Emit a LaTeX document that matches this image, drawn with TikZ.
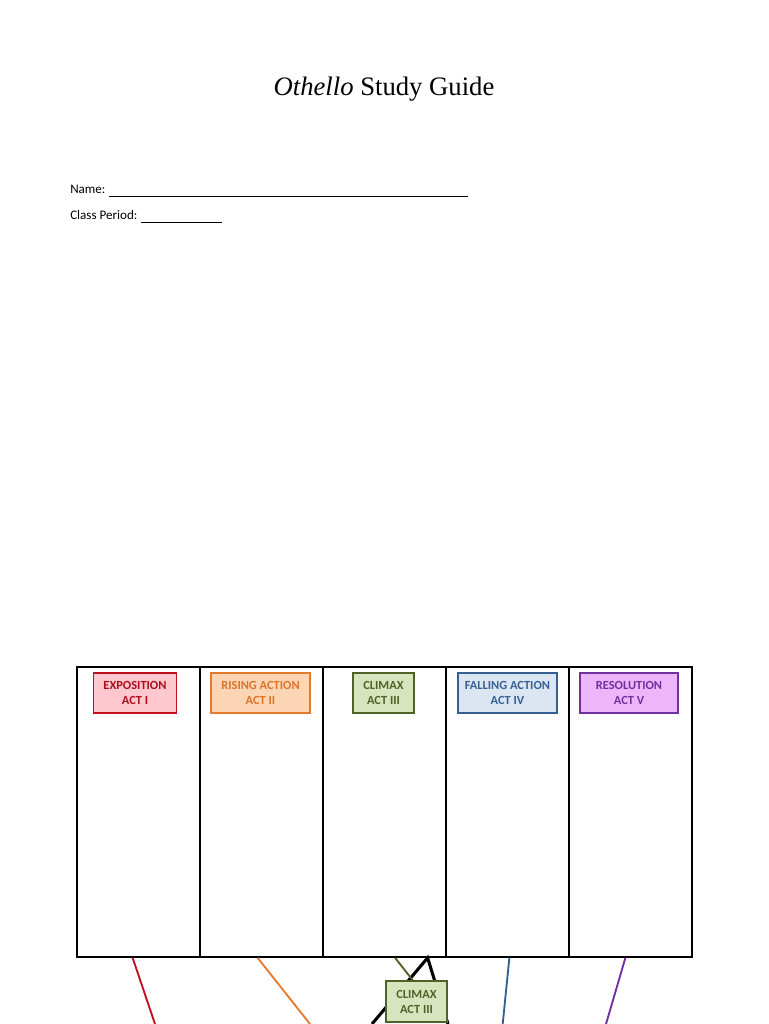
\documentclass[tikz,border=0pt]{standalone}
\usepackage{fontspec}
\setmainfont{Liberation Serif}
\setsansfont{Carlito}
\usepackage{tikz}
\usetikzlibrary{calc}

\definecolor{expoline}{RGB}{192,16,30}
\definecolor{expofill}{RGB}{255,199,206}
\definecolor{riseline}{RGB}{230,122,44}
\definecolor{risefill}{RGB}{252,213,180}
\definecolor{climline}{RGB}{79,98,40}
\definecolor{climfill}{RGB}{215,228,189}
\definecolor{fallline}{RGB}{55,96,146}
\definecolor{fallfill}{RGB}{220,230,242}
\definecolor{resoline}{RGB}{112,48,160}
\definecolor{resofill}{RGB}{238,182,250}

\begin{document}
\begin{tikzpicture}[x=0.75pt,y=-0.75pt,
    % styles
    column/.style={draw,line width=1.2pt,minimum width=92.25pt,minimum height=217.5pt,inner sep=0pt},
    act box/.style={draw,line width=1.1pt,align=center,inner sep=0pt,minimum height=30pt,
      font=\sffamily\bfseries\fontsize{9.3}{11.2}\selectfont},
    field/.style={anchor=west,inner sep=0pt,font=\sffamily\fontsize{9.8}{11}\selectfont},
    blank line/.style={line width=0.7pt},
    plot line/.style={line width=2.3pt},
    link/.style={line width=1.4pt}]

  \useasboundingbox (0,0) rectangle (768,1024);

  % heading
  \node (title) at (384,89) {\fontsize{20}{24}\selectfont\emph{Othello} Study Guide};
  \node[field] (name) at (70,189) {Name:};
  \draw[blank line] ([xshift=2.5pt,yshift=-2.2pt]name.base east) -- ++(359,0);
  \node[field] (period) at (70,215) {Class Period:};
  \draw[blank line] ([xshift=2.5pt,yshift=-2.2pt]period.base east) -- ++(81,0);

  % columns
  \foreach \i/\x in {1/138.5,2/261.5,3/384.5,4/507.5,5/630.5}
    \node[column] (col\i) at (\x,812) {};

  % act boxes
  \node[act box,fill=expofill,draw=expoline,text=expoline!90!black,minimum width=62.25pt]
    (expo) at (135,693) {EXPOSITION\\ACT I};
  \node[act box,fill=risefill,draw=riseline,text=riseline!95!black,minimum width=74.25pt]
    (rise) at (260.5,693) {RISING ACTION\\ACT II};
  \node[act box,fill=climfill,draw=climline,text=climline,minimum width=45.75pt]
    (clim) at (383.5,693) {CLIMAX\\ACT III};
  \node[act box,fill=fallfill,draw=fallline,text=fallline,minimum width=74.25pt]
    (fall) at (507.5,693) {FALLING ACTION\\ACT IV};
  \node[act box,fill=resofill,draw=resoline,text=resoline,minimum width=73.5pt]
    (reso) at (629,693) {RESOLUTION\\ACT V};

  % plot
  \coordinate (apex) at ($(col3.south west)!0.846!(col3.south east)$);
  \coordinate (plot start) at (372,1024);
  \coordinate (plot end) at (448,1024);
  \draw[plot line] (plot start) -- (apex) -- (plot end);

  % links from the columns
  \coordinate (expo end) at (155,1024);
  \coordinate (rise end) at (310,1024);
  \coordinate (fall end) at (502.7,1024);
  \coordinate (reso end) at (606,1024);
  \draw[link,expoline] ($(col1.south west)!0.453!(col1.south east)$) -- (expo end);
  \draw[link,riseline] ($(col2.south west)!0.469!(col2.south east)$) -- (rise end);
  \draw[link,fallline] ($(col4.south west)!0.515!(col4.south east)$) -- (fall end);
  \draw[link,resoline] ($(col5.south west)!0.459!(col5.south east)$) -- (reso end);

  % climax on the plot
  \node[act box,fill=climfill,draw=climline,text=climline,minimum width=45.75pt,minimum height=30.75pt]
    (peak) at (416.5,1001.5) {CLIMAX\\ACT III};
  \draw[link,climline] ($(col3.south west)!0.585!(col3.south east)$)
    -- ($(peak.north west)!0.44!(peak.north east)$);
\end{tikzpicture}
\end{document}
